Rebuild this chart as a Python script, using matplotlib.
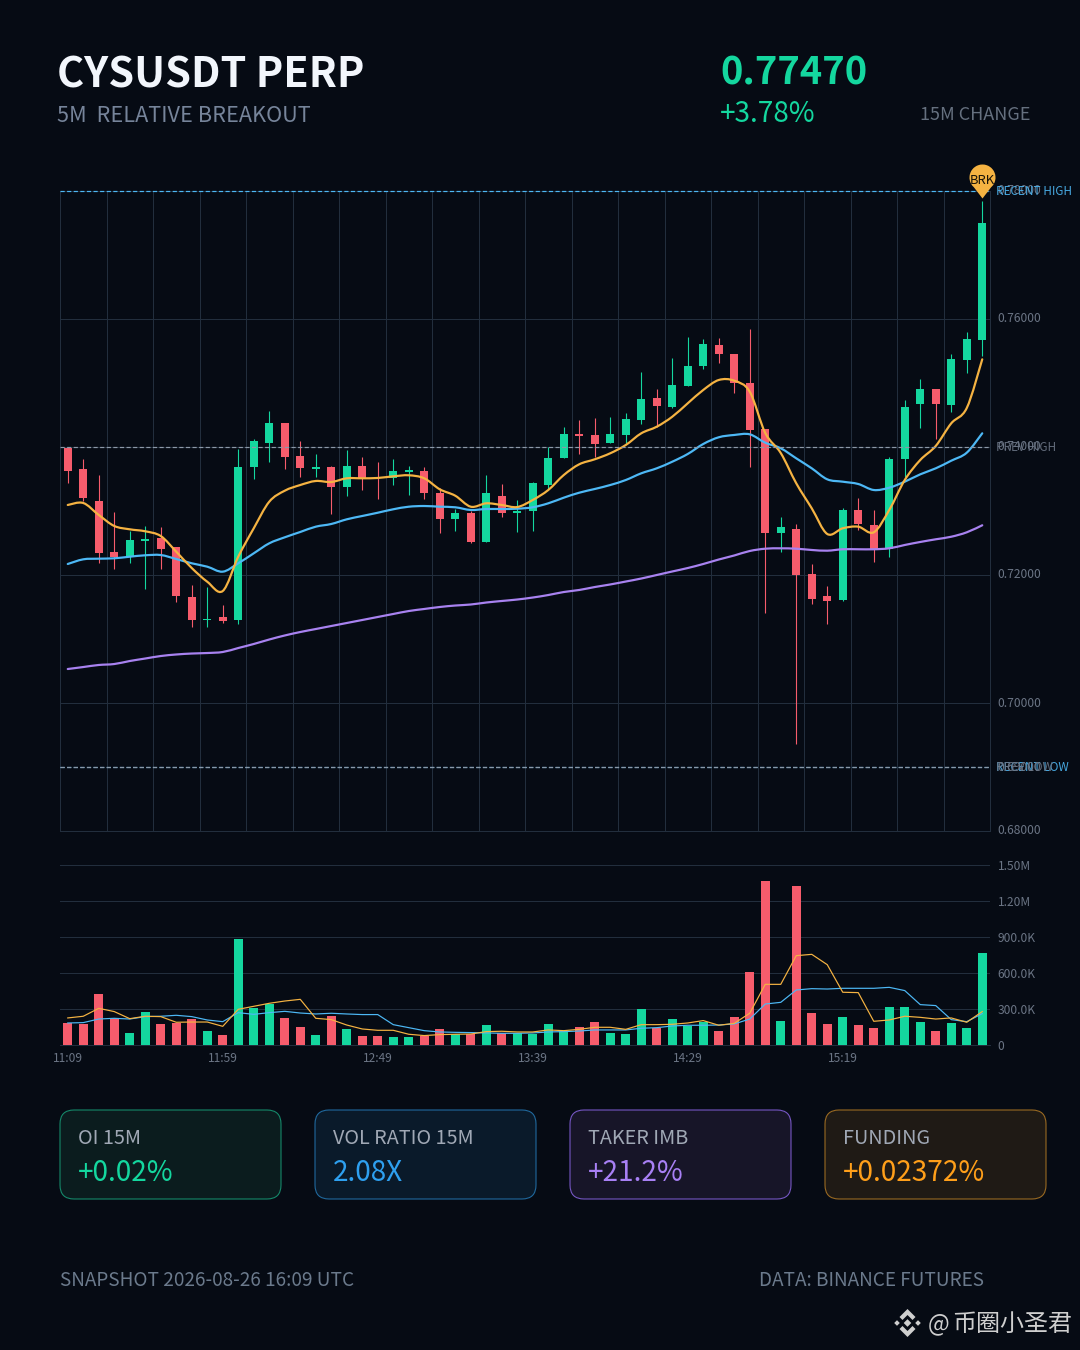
import matplotlib
matplotlib.use('Agg')
import matplotlib.pyplot as plt
import numpy as np
from matplotlib.patches import FancyBboxPatch, PathPatch, Polygon
from matplotlib.path import Path

plt.rcParams['font.family'] = ['Noto Sans CJK SC', 'DejaVu Sans']

BG = '#060b14'
GRID = '#222e3d'
GREEN = '#14d79f'
RED = '#f65c6c'
ORANGE = '#f5b342'
BLUE = '#4db8f5'
PURPLE = '#a882f0'
TICK = '#6b7585'

opens = [.7398, .7366, .7316, .7236, .7228, .7253, .7258, .7243, .7166, .7129,
         .7134, .7130, .7368, .7406, .7438, .7386, .7366, .7369, .7337, .7370,
         .7352, .7352, .7361, .7362, .7328, .7287, .7297, .7251, .7323, .7297,
         .7300, .7340, .7383, .7420, .7418, .7406, .7418, .7442, .7476, .7463,
         .7496, .7526, .7559, .7545, .7500, .7428, .7265, .7272, .7202, .7167,
         .7161, .7302, .7278, .7240, .7381, .7467, .7490, .7466, .7536, .7567]
closes = [.7363, .7320, .7234, .7228, .7255, .7257, .7240, .7167, .7130, .7131,
          .7128, .7368, .7409, .7438, .7384, .7367, .7369, .7337, .7371, .7351,
          .7351, .7363, .7364, .7328, .7288, .7297, .7252, .7328, .7297, .7300,
          .7343, .7383, .7420, .7417, .7405, .7421, .7443, .7475, .7464, .7497,
          .7527, .7561, .7545, .7500, .7427, .7265, .7275, .7200, .7163, .7159,
          .7302, .7280, .7241, .7382, .7463, .7491, .7467, .7537, .7569, .7750]
highs = [.7398, .7381, .7357, .7298, .7269, .7277, .7275, .7243, .7184, .7181,
         .7153, .7397, .7413, .7456, .7438, .7409, .7389, .7371, .7396, .7384,
         .7377, .7381, .7371, .7368, .7336, .7303, .7300, .7356, .7342, .7317,
         .7345, .7400, .7432, .7442, .7446, .7447, .7453, .7517, .7490, .7539,
         .7572, .7568, .7571, .7545, .7585, .7428, .7291, .7279, .7217, .7183,
         .7304, .7321, .7302, .7384, .7473, .7506, .7490, .7545, .7579, .7784]
lows = [.7344, .7316, .7219, .7209, .7219, .7178, .7209, .7158, .7119, .7119,
        .7125, .7124, .7350, .7377, .7365, .7353, .7353, .7295, .7324, .7333,
        .7319, .7341, .7325, .7319, .7266, .7269, .7250, .7251, .7291, .7267,
        .7268, .7335, .7383, .7389, .7384, .7406, .7406, .7436, .7432, .7461,
        .7496, .7522, .7532, .7485, .7369, .7141, .7236, .6936, .7155, .7123,
        .7160, .7270, .7221, .7228, .7353, .7429, .7413, .7454, .7515, .7542]

ema_fast = [.73094, .73125, .72938, .72766, .72714, .72683, .72609, .72364, .72109, .71895,
            .71750, .72286, .72730, .73145, .73317, .73406, .73469, .73453, .73511, .73511,
            .73516, .73542, .73558, .73511, .73339, .73239, .73067, .73120, .73094, .73062,
            .73172, .73328, .73562, .73730, .73808, .73902, .74031, .74214, .74317, .74473,
            .74683, .74891, .75047, .75036, .74864, .74219, .73906, .73433, .73042, .72641,
            .72730, .72755, .72667, .73016, .73484, .73797, .74016, .74370, .74609, .75370]
ema_mid = [.72172, .72245, .72255, .72261, .72286, .72308, .72312, .72250, .72183, .72130,
           .72052, .72183, .72339, .72495, .72589, .72672, .72755, .72797, .72870, .72922,
           .72973, .73027, .73067, .73078, .73067, .73058, .73016, .73031, .73031, .73036,
           .73058, .73120, .73208, .73286, .73344, .73406, .73484, .73589, .73667, .73770,
           .73891, .74047, .74152, .74188, .74198, .74067, .73980, .73823, .73667, .73495,
           .73458, .73422, .73328, .73364, .73458, .73573, .73667, .73786, .73911, .74214]
ema_slow = [.70531, .70562, .70594, .70609, .70656, .70695, .70734, .70758, .70773, .70781,
            .70797, .70859, .70922, .70992, .71055, .71109, .71156, .71203, .71250, .71297,
            .71344, .71391, .71437, .71469, .71500, .71523, .71539, .71570, .71594, .71617,
            .71648, .71687, .71734, .71766, .71812, .71852, .71898, .71945, .72000, .72055,
            .72109, .72172, .72242, .72305, .72375, .72411, .72417, .72411, .72391, .72380,
            .72402, .72402, .72402, .72417, .72469, .72516, .72558, .72598, .72667, .72777]

volumes = [186, 175, 431, 225, 100, 275, 175, 183, 219, 119,
           83, 883, 308, 347, 228, 150, 86, 242, 136, 78,
           78, 72, 69, 81, 136, 92, 94, 167, 100, 100,
           97, 178, 119, 150, 194, 103, 92, 306, 142, 219,
           164, 197, 117, 233, 611, 1370, 203, 1331, 267, 178,
           239, 169, 144, 317, 322, 194, 117, 189, 144, 772]
vol_ma_fast = [228, 242, 308, 281, 222, 242, 239, 192, 194, 194,
               158, 300, 325, 350, 369, 383, 225, 214, 169, 136,
               125, 125, 92, 81, 89, 92, 94, 114, 117, 111,
               111, 128, 122, 133, 150, 150, 133, 172, 172, 175,
               186, 206, 167, 183, 267, 508, 508, 747, 758, 672,
               442, 439, 200, 211, 242, 233, 219, 228, 192, 281]
vol_ma_slow = [186, 189, 219, 225, 219, 239, 242, 250, 239, 211,
               197, 272, 258, 272, 283, 269, 261, 267, 261, 256,
               256, 172, 147, 122, 111, 108, 106, 103, 100, 100,
               103, 111, 114, 119, 128, 128, 128, 142, 147, 161,
               167, 167, 169, 178, 219, 344, 358, 461, 472, 469,
               475, 475, 475, 483, 456, 339, 331, 214, 197, 264]

time_labels = ['11:09', '11:59', '12:49', '13:39', '14:29', '15:19']
price_ticks = [.68, .70, .72, .74, .76, .78]
vol_ticks = [0, 300, 600, 900, 1200, 1500]
vol_tick_labels = ['0', '300.0K', '600.0K', '900.0K', '1.20M', '1.50M']

recent_high = .78
prev_high = .74
recent_low = .69
prev_low = .69
breakout_price = .7789

cards = [('OI 15M', '+0.02%', '#0b1c1e', '#15896a', '#14d79f'),
         ('VOL RATIO 15M', '2.08X', '#0a1a2a', '#20699e', '#2ea0f0'),
         ('TAKER IMB', '+21.2%', '#171528', '#7657c4', '#a880f5'),
         ('FUNDING', '+0.02372%', '#1f1a15', '#9a6a22', '#ff9f1a')]


def px(x):
    return x * 0.72


def smooth_path(xs, ys):
    # catmull-rom through the points, drawn as bezier segments
    pts = np.column_stack([xs, ys])
    verts = [pts[0]]
    codes = [Path.MOVETO]
    for i in range(len(pts) - 1):
        p0 = pts[max(i - 1, 0)]
        p3 = pts[min(i + 2, len(pts) - 1)]
        verts += [pts[i] + (pts[i + 1] - p0) / 6, pts[i + 1] - (p3 - pts[i]) / 6, pts[i + 1]]
        codes += [Path.CURVE4] * 3
    return Path(verts, codes)


fig = plt.figure(figsize=(10.8, 13.5), dpi=100, facecolor=BG)
ax = fig.add_axes([60 / 1080, 1 - 831 / 1350, 930 / 1080, 640 / 1350], facecolor=BG)
vax = fig.add_axes([60 / 1080, 1 - 1045.3 / 1350, 930 / 1080, 180 / 1350], facecolor=BG)

x = np.arange(len(opens))
opens, closes, highs, lows = map(np.array, (opens, closes, highs, lows))
colors = [GREEN if c >= o else RED for o, c in zip(opens, closes)]

# price panel
ax.set_xlim(-0.5, 59.5)
ax.set_ylim(.68, .78)
ax.set_xticks(np.arange(-0.5, 60, 3))
ax.set_yticks(price_ticks)
ax.set_yticklabels([f'{t:.5f}' for t in price_ticks], va='center')
ax.grid(True, color=GRID, lw=px(1))
ax.set_axisbelow(True)
ax.tick_params(axis='x', length=0, labelbottom=False)
ax.tick_params(axis='y', length=0, left=False, right=False, labelleft=False, labelright=True,
               labelsize=px(12), labelcolor=TICK, pad=px(7.6))
for side in ['left', 'right', 'bottom']:
    ax.spines[side].set_color(GRID)
    ax.spines[side].set_linewidth(px(1))
ax.spines['top'].set_visible(False)

ax.vlines(x, lows, highs, color=colors, lw=px(1.1), zorder=2)
ax.bar(x, np.abs(closes - opens), 8 / 15.5, bottom=np.minimum(opens, closes), color=colors,
       linewidth=0, zorder=3)

for series, color in [(ema_slow, PURPLE), (ema_mid, BLUE), (ema_fast, ORANGE)]:
    ax.add_patch(PathPatch(smooth_path(x, series), fill=False, edgecolor=color, lw=px(2.2), zorder=4,
                           capstyle='round'))

for level, color in [(recent_high, BLUE), (prev_high, '#8d99a8'), (recent_low, BLUE), (prev_low, '#8d99a8')]:
    ax.axhline(level, color=color, lw=px(1.2), dashes=(3.5, 2), zorder=5, clip_on=False, snap=True)

label_tr = ax.get_yaxis_transform()
for level, text, color in [(recent_high, 'RECENT HIGH', BLUE), (prev_high, 'PREV HIGH', '#6b7585'),
                           (recent_low, 'RECENT LOW', BLUE), (prev_low, 'PREV LOW', '#6b7585')]:
    ax.annotate(text, (1, level), xycoords=label_tr, xytext=(px(6), px(-0.6)), textcoords='offset points',
                color=color, fontsize=px(11.8), va='center', ha='left', annotation_clip=False, alpha=.9)
ax.annotate('0.69000', (1, .69), xycoords=label_tr, xytext=(px(7.6), 0), textcoords='offset points',
            color=TICK, fontsize=px(12), va='center', ha='left', annotation_clip=False)

arc = Path.arc(-48, 228)
pin_verts = np.vstack([[[0, 0]], arc.vertices * 13 + [0, 21], [[0, 0]]])
pin_codes = [Path.MOVETO] + [Path.LINETO] + list(arc.codes[1:]) + [Path.CLOSEPOLY]
pin = Path(pin_verts, pin_codes)
ax.plot([59], [breakout_price], marker=pin, markersize=px(2 * 34), color=ORANGE, mew=0,
        clip_on=False, zorder=6)
ax.annotate('BRK', (59, breakout_price), xytext=(0, px(18)), textcoords='offset points', color='#1a1408',
            fontsize=px(13), ha='center', va='center', annotation_clip=False, zorder=7)

# volume panel
vax.set_xlim(-0.5, 59.5)
vax.set_ylim(0, 1500)
vax.bar(x, volumes, 8.7 / 15.5, color=colors, linewidth=0, zorder=2)
vax.plot(x, vol_ma_slow, color=BLUE, lw=px(1.2), zorder=3)
vax.plot(x, vol_ma_fast, color=ORANGE, lw=px(1.2), zorder=4)
vax.set_yticks(vol_ticks)
vax.set_yticklabels(vol_tick_labels)
vax.set_xticks(np.arange(0, 60, 10))
vax.set_xticklabels(time_labels)
vax.grid(True, axis='y', color=GRID, lw=px(1))
vax.set_axisbelow(True)
vax.tick_params(axis='x', length=0, labelsize=px(12), labelcolor=TICK, pad=px(7))
vax.tick_params(axis='y', length=0, left=False, labelleft=False, labelright=True,
                labelsize=px(12), labelcolor=TICK, pad=px(7.6))
for side in ['left', 'right', 'top']:
    vax.spines[side].set_visible(False)
vax.spines['bottom'].set_color(GRID)
vax.spines['bottom'].set_linewidth(px(1))

# header, cards and footer in pixel coordinates
over = fig.add_axes([0, 0, 1, 1], facecolor='none', zorder=10)
over.set_xlim(0, 1080)
over.set_ylim(1350, 0)
over.axis('off')

over.text(57, 75, 'CYSUSDT PERP', color='#f2f6fc', fontsize=px(41.4), fontweight='bold', va='center')
over.text(57, 116, '5M  RELATIVE BREAKOUT', color='#76849a', fontsize=px(21.7), va='center')
over.text(720, 73, '0.77470', color=GREEN, fontsize=px(38), fontweight='bold', va='center')
over.text(720, 114, '+3.78%', color=GREEN, fontsize=px(28), va='center')
over.text(1030, 115, '15M CHANGE', color='#65707f', fontsize=px(18), va='center', ha='right')

for i, (label, value, fill, edge, color) in enumerate(cards):
    left = 60 + 255 * i
    over.add_patch(FancyBboxPatch((left + 14, 1124), 221 - 28, 89 - 28, boxstyle='round,pad=14,rounding_size=14',
                                  facecolor=fill, edgecolor=edge, lw=px(1.1)))
    over.text(left + 18, 1138, label, color='#a0a8b5', fontsize=px(19.8), va='center')
    over.text(left + 18, 1173, value, color=color, fontsize=px(28), va='center')

over.text(60, 1280, 'SNAPSHOT 2026-08-26 16:09 UTC', color='#6b7a8c', fontsize=px(19), va='center')
over.text(984, 1280, 'DATA: BINANCE FUTURES', color='#6b7a8c', fontsize=px(19), va='center', ha='right')

cx, cy = 907.5, 1323
logo = '#cfcfcf'
for dx, half in [(0, 3.8), (-10.5, 2.8), (10.5, 2.8)]:
    over.add_patch(Polygon([(cx + dx, cy - half), (cx + dx + half, cy), (cx + dx, cy + half), (cx + dx - half, cy)],
                           facecolor=logo, edgecolor='none'))
for sign in (-1, 1):
    over.add_patch(Polygon([(cx, cy + sign * 14), (cx + 8, cy + sign * 6), (cx + 5, cy + sign * 3),
                            (cx, cy + sign * 8), (cx - 5, cy + sign * 3), (cx - 8, cy + sign * 6)],
                           facecolor=logo, edgecolor='none'))
over.text(928, 1324, '@', color='#cfcfcf', fontsize=px(23), va='center')
over.text(952, 1324, '币圈小圣君', color='#cfcfcf', fontsize=px(24), va='center')

fig.savefig('out.png', dpi=100, facecolor=BG)
